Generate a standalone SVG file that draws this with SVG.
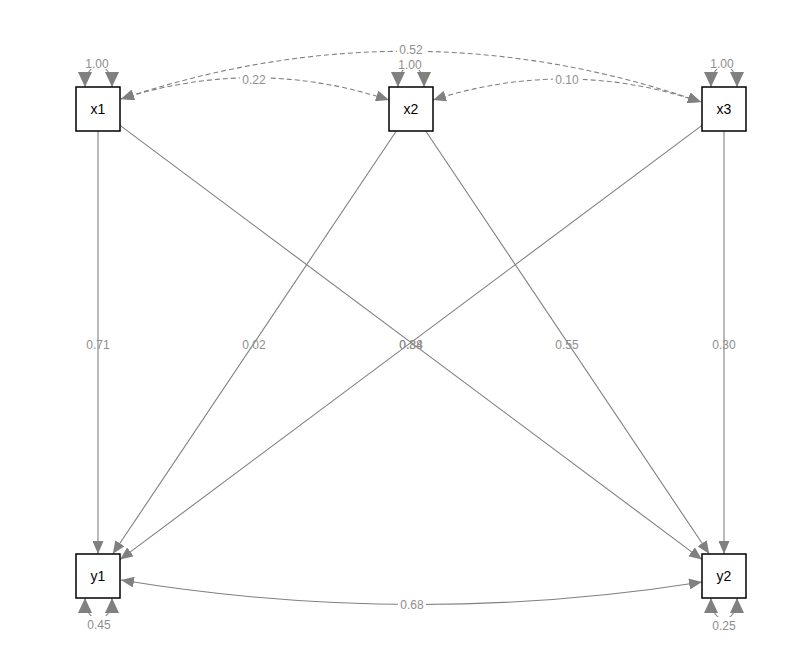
<svg xmlns="http://www.w3.org/2000/svg" width="800" height="668" viewBox="0 0 800 668">
<style>
.node rect{fill:#fff;stroke:#000;stroke-width:1.5}
.node text{font-family:"Liberation Sans",Arial,sans-serif;font-size:14px;fill:#000;text-anchor:middle;dominant-baseline:central}
.edge{fill:none;stroke:#808080;stroke-width:1.1}
.dash{stroke-dasharray:5,3}
.lbl{font-family:"Liberation Sans",Arial,sans-serif;font-size:12px;fill:#8e8e8e;text-anchor:middle;dominant-baseline:central}
.bg{fill:#fff}
</style>
<defs>
<marker id="ah" viewBox="0 0 13 11" refX="13" refY="5.5" markerWidth="13" markerHeight="11" markerUnits="userSpaceOnUse" orient="auto-start-reverse">
<path d="M0,0 L13,5.5 L0,11 z" fill="#808080"/>
</marker>
<marker id="av" viewBox="0 0 15 14" refX="15" refY="7" markerWidth="15" markerHeight="14" markerUnits="userSpaceOnUse" orient="auto-start-reverse">
<path d="M0,0 L15,7 L0,14 z" fill="#808080"/>
</marker>
</defs>
<rect width="800" height="668" fill="#fff"/>
<g id="connectors">
<line class="edge" x1="98" y1="131" x2="98" y2="554" marker-end="url(#ah)"/>
<line class="edge" x1="396.3" y1="131" x2="112.7" y2="554" marker-end="url(#ah)"/>
<line class="edge" x1="702" y1="125.4" x2="120" y2="559.6" marker-end="url(#ah)"/>
<line class="edge" x1="120" y1="125.4" x2="702" y2="559.6" marker-end="url(#ah)"/>
<line class="edge" x1="425.7" y1="131" x2="709.3" y2="554" marker-end="url(#ah)"/>
<line class="edge" x1="724" y1="131" x2="724" y2="554" marker-end="url(#ah)"/>
<path class="edge dash" d="M121,99 Q255,56 389,100" marker-start="url(#ah)" marker-end="url(#ah)"/>
<path class="edge dash" d="M433,100 Q567,57 701,102" marker-start="url(#ah)" marker-end="url(#ah)"/>
<path class="edge dash" d="M121,99 Q411,2 701,102" marker-start="url(#ah)" marker-end="url(#ah)"/>
<path class="edge" d="M121,580 Q412,628 702,582" marker-start="url(#ah)" marker-end="url(#ah)"/>
<path class="edge" d="M85,87 C85,59 112,59 112,87" marker-start="url(#av)" marker-end="url(#av)"/>
<path class="edge" d="M398,87 C398,59 424,59 424,87" marker-start="url(#av)" marker-end="url(#av)"/>
<path class="edge" d="M711,87 C711,59 737,59 737,87" marker-start="url(#av)" marker-end="url(#av)"/>
<path class="edge" d="M85,598 C85,626 112,626 112,598" marker-start="url(#av)" marker-end="url(#av)"/>
<path class="edge" d="M711,598 C711,626 737,626 737,598" marker-start="url(#av)" marker-end="url(#av)"/>
<text class="lbl" x="98" y="345">0.71</text>
<text class="lbl" x="254" y="345">0.02</text>
<text class="lbl" x="411" y="345">0.38</text>
<text class="lbl" x="411" y="345">0.84</text>
<text class="lbl" x="567" y="345">0.55</text>
<text class="lbl" x="724" y="345">0.30</text>
<rect class="bg" x="240" y="75" width="28" height="10"/>
<text class="lbl" x="254" y="80">0.22</text>
<rect class="bg" x="553" y="75" width="28" height="10"/>
<text class="lbl" x="567" y="80">0.10</text>
<rect class="bg" x="397" y="46" width="28" height="9"/>
<text class="lbl" x="411" y="50">0.52</text>
<rect class="bg" x="398" y="600" width="28" height="10"/>
<text class="lbl" x="412" y="605">0.68</text>
<rect class="bg" x="86" y="59" width="24" height="10"/>
<text class="lbl" x="97" y="64">1.00</text>
<rect class="bg" x="398" y="60" width="24" height="10"/>
<text class="lbl" x="410" y="65">1.00</text>
<rect class="bg" x="710" y="59" width="24" height="10"/>
<text class="lbl" x="722" y="64">1.00</text>
<rect class="bg" x="87" y="616" width="24" height="14"/>
<text class="lbl" x="99" y="625">0.45</text>
<rect class="bg" x="712" y="617" width="24" height="14"/>
<text class="lbl" x="724" y="626">0.25</text>
</g>
<g id="x1" class="node"><rect x="76" y="87" width="44" height="44"/><text x="98" y="109">x1</text></g>
<g id="x2" class="node"><rect x="389" y="87" width="44" height="44"/><text x="411" y="109">x2</text></g>
<g id="x3" class="node"><rect x="702" y="87" width="44" height="44"/><text x="724" y="109">x3</text></g>
<g id="y1" class="node"><rect x="76" y="554" width="44" height="44"/><text x="98" y="576">y1</text></g>
<g id="y2" class="node"><rect x="702" y="554" width="44" height="44"/><text x="724" y="576">y2</text></g>
</svg>
